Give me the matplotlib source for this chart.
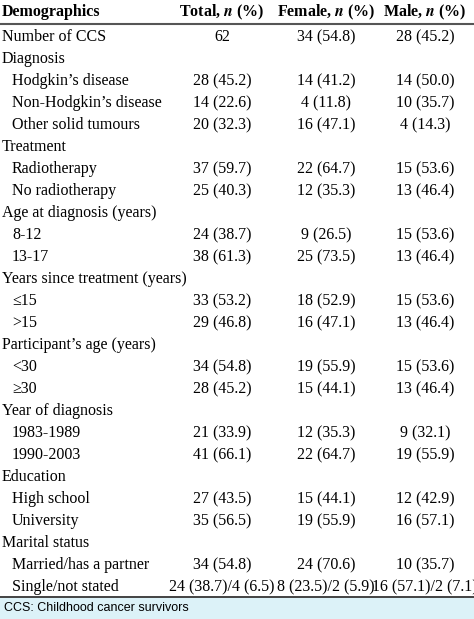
import matplotlib
matplotlib.use("Agg")
import matplotlib.pyplot as plt
from matplotlib.patches import Rectangle

headers = ["Demographics", "Total, $\\boldsymbol{n}$ (%)", "Female, $\\boldsymbol{n}$ (%)", "Male, $\\boldsymbol{n}$ (%)"]
labels = ["Number of CCS", "Diagnosis", "Hodgkin’s disease", "Non-Hodgkin’s disease", "Other solid tumours",
          "Treatment", "Radiotherapy", "No radiotherapy", "Age at diagnosis (years)", "8-12", "13-17",
          "Years since treatment (years)", "≤15", ">15", "Participant’s age (years)", "<30", "≥30",
          "Year of diagnosis", "1983-1989", "1990-2003", "Education", "High school", "University",
          "Marital status", "Married/has a partner", "Single/not stated"]
indent = [0, 0, 1, 1, 1, 0, 1, 1, 0, 1, 1, 0, 1, 1, 0, 1, 1, 0, 1, 1, 0, 1, 1, 0, 1, 1]
total = ["62", "", "28 (45.2)", "14 (22.6)", "20 (32.3)", "", "37 (59.7)", "25 (40.3)", "", "24 (38.7)", "38 (61.3)",
         "", "33 (53.2)", "29 (46.8)", "", "34 (54.8)", "28 (45.2)", "", "21 (33.9)", "41 (66.1)", "",
         "27 (43.5)", "35 (56.5)", "", "34 (54.8)", "24 (38.7)/4 (6.5)"]
female = ["34 (54.8)", "", "14 (41.2)", "4 (11.8)", "16 (47.1)", "", "22 (64.7)", "12 (35.3)", "", "9 (26.5)", "25 (73.5)",
          "", "18 (52.9)", "16 (47.1)", "", "19 (55.9)", "15 (44.1)", "", "12 (35.3)", "22 (64.7)", "",
          "15 (44.1)", "19 (55.9)", "", "24 (70.6)", "8 (23.5)/2 (5.9)"]
male = ["28 (45.2)", "", "14 (50.0)", "10 (35.7)", "4 (14.3)", "", "15 (53.6)", "13 (46.4)", "", "15 (53.6)", "13 (46.4)",
        "", "15 (53.6)", "13 (46.4)", "", "15 (53.6)", "13 (46.4)", "", "9 (32.1)", "19 (55.9)", "",
        "12 (42.9)", "16 (57.1)", "", "10 (35.7)", "16 (57.1)/2 (7.1)"]
footnote = "CCS: Childhood cancer survivors"

W, H = 474, 619
plt.rcParams["mathtext.fontset"] = "stix"
fig = plt.figure(figsize=(W / 100, H / 100), dpi=100)
ax = fig.add_axes([0, 0, 1, 1])
ax.set_xlim(0, W)
ax.set_ylim(H, 0)
ax.axis("off")

serif = ["Liberation Serif", "DejaVu Serif"]
fs = 11.5
cols = [222, 326, 425]

ax.text(2, 12, headers[0], fontsize=fs, fontweight="bold", family=serif, va="center", ha="left")
for x, h in zip(cols, headers[1:]):
    ax.text(x, 12, h, fontsize=fs, fontweight="bold", family=serif, va="center", ha="center")
ax.plot([0, W], [24, 24], color="#555555", lw=1.5)

y0, dy = 37, 22.0
for i, lab in enumerate(labels):
    y = y0 + i * dy
    ax.text(2 + 10 * indent[i], y, lab, fontsize=fs, family=serif, va="center", ha="left")
    for x, v in zip(cols, (total[i], female[i], male[i])):
        if v:
            ax.text(x, y, v, fontsize=fs, family=serif, va="center", ha="center")

ax.plot([0, W], [597, 597], color="#222222", lw=1.2)
ax.add_patch(Rectangle((0, 598), W, H - 598, color="#dcf2f8", lw=0))
ax.text(4, 608, footnote, fontsize=9, family=["Liberation Sans"], va="center", ha="left")

fig.savefig("out.png", dpi=100)
